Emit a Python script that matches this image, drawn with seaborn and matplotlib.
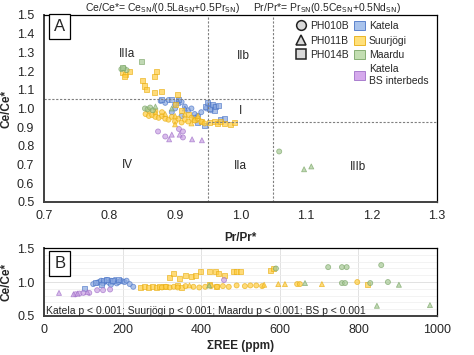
import numpy as np
import pandas as pd
import seaborn as sns
import matplotlib.pyplot as plt
from matplotlib.lines import Line2D
from matplotlib.patches import Patch

# ---- panel A: Pr/Pr* vs Ce/Ce* ----
katela_c_pr = [0.878, 0.885, 0.89, 0.90, 0.905, 0.91, 0.915, 0.92, 0.925, 0.93, 0.935, 0.94, 0.948, 0.952, 0.955, 0.96, 0.90, 0.895, 0.91, 0.93]
katela_c_ce = [1.04, 1.03, 1.045, 1.02, 1.04, 1.035, 1.01, 0.99, 1.00, 0.97, 0.96, 0.98, 1.00, 1.02, 0.99, 1.01, 1.00, 0.98, 0.96, 0.95]
katela_s_pr = [0.88, 0.895, 0.905, 0.947, 0.95, 0.953, 0.957, 0.96, 0.962, 0.966, 0.97, 0.975, 0.945, 0.935]
katela_s_ce = [1.05, 1.05, 1.05, 1.01, 1.03, 1.00, 1.02, 0.99, 1.01, 1.015, 0.94, 0.945, 0.91, 0.925]
katela_t_pr = [0.905, 0.915]
katela_t_ce = [1.03, 1.00]

suur_s_pr = [0.82, 0.825, 0.83, 0.823, 0.872, 0.869, 0.85, 0.854, 0.857, 0.869, 0.88, 0.903,
             0.953, 0.96, 0.965, 0.97, 0.975, 0.984, 0.99, 0.90, 0.91, 0.92, 0.93, 0.94]
suur_s_ce = [1.19, 1.18, 1.20, 1.17, 1.195, 1.17, 1.15, 1.12, 1.10, 1.087, 1.09, 1.077,
             0.925, 0.93, 0.92, 0.93, 0.92, 0.915, 0.925, 1.02, 0.99, 0.97, 0.94, 0.93]
suur_c_pr = [0.855, 0.86, 0.865, 0.87, 0.875, 0.88, 0.885, 0.89, 0.895, 0.90, 0.905, 0.91, 0.915,
             0.92, 0.925, 0.93, 0.935, 0.94, 0.945, 0.86, 0.87, 0.88]
suur_c_ce = [0.97, 0.96, 0.965, 0.955, 0.95, 0.96, 0.945, 0.94, 0.955, 0.93, 0.945, 0.925, 0.94,
             0.93, 0.95, 0.935, 0.945, 0.93, 0.92, 0.99, 0.985, 0.98]
suur_t_pr = [0.87, 0.885, 0.90, 0.915, 0.925, 0.90, 0.935]
suur_t_ce = [0.98, 0.97, 0.96, 0.97, 0.92, 0.915, 0.96]

maardu_c_pr = [0.818, 0.822, 0.826, 0.854, 0.858, 0.862, 0.866, 1.059]
maardu_c_ce = [1.21, 1.215, 1.205, 1.00, 0.995, 1.005, 0.99, 0.77]
maardu_s_pr = [0.848, 0.82]
maardu_s_ce = [1.25, 1.22]
maardu_t_pr = [0.87, 0.895, 1.097, 1.108]
maardu_t_ce = [1.01, 1.00, 0.675, 0.69]

bs_c_pr = [0.874, 0.885, 0.906, 0.912, 0.912]
bs_c_ce = [0.877, 0.85, 0.89, 0.877, 0.845]
bs_t_pr = [0.891, 0.895, 0.907, 0.926, 0.941]
bs_t_ce = [0.835, 0.86, 0.86, 0.835, 0.83]

# ---- panel B: sum REE vs Ce/Ce* ----
katela_c_ree = [125, 135, 140, 145, 150, 155, 160, 165, 170, 175, 180, 185, 190, 195, 200, 205, 210, 218, 227, 170]
katela_c_ceb = [0.97, 0.99, 1.00, 1.02, 0.98, 1.01, 1.03, 0.99, 1.02, 1.00, 1.03, 0.98, 1.00, 1.02, 1.01, 1.00, 1.02, 0.97, 0.93, 0.96]
katela_s_ree = [104, 130, 150, 160, 175, 190, 145]
katela_s_ceb = [0.91, 1.00, 1.03, 1.04, 1.02, 1.04, 0.96]

bs_c_ree = [80, 90, 100, 115, 135, 150, 168, 458]
bs_c_ceb = [0.82, 0.83, 0.84, 0.84, 0.88, 0.88, 0.89, 1.03]
bs_t_ree = [38, 75, 85, 110]
bs_t_ceb = [0.84, 0.82, 0.83, 0.85]

suur_s_ree = [245, 255, 265, 275, 285, 295, 320, 330, 345, 360, 375, 385, 397, 420, 435, 445, 460,
              481, 490, 499, 575, 583, 822, 310, 340, 350, 420, 440]
suur_s_ceb = [0.92, 0.93, 0.92, 0.93, 0.92, 0.93, 1.07, 1.12, 1.05, 1.09, 1.08, 1.10, 1.15, 1.16, 1.15, 1.12, 1.10,
              1.15, 1.15, 1.15, 1.17, 1.20, 0.96, 0.94, 0.95, 0.92, 0.96, 0.93]
suur_c_ree = [300, 310, 320, 330, 340, 360, 380, 395, 410, 425, 440, 455, 470, 490, 511, 525, 540, 555, 644, 651, 797]
suur_c_ceb = [0.92, 0.93, 0.92, 0.93, 0.92, 0.94, 0.93, 0.92, 0.93, 0.94, 0.93, 0.94, 0.93, 0.95, 0.94, 0.95, 0.95, 0.94, 0.97, 0.97, 1.00]
suur_t_ree = [370, 560, 596, 613, 707]
suur_t_ceb = [0.95, 0.96, 0.97, 0.97, 0.97]

maardu_c_ree = [590, 723, 758, 770, 858, 758, 766, 830, 875]
maardu_c_ceb = [1.20, 1.22, 1.22, 1.22, 1.25, 0.985, 0.985, 0.985, 1.00]
maardu_t_ree = [420, 664, 903, 847, 982]
maardu_t_ceb = [0.95, 0.985, 0.96, 0.65, 0.66]

formations = ["Katela", "Suurjögi", "Maardu", "Katela\nBS interbeds"]
samples = ["PH010B", "PH011B", "PH014B"]
fill_colors = {"Katela": "#8aa8e0", "Suurjögi": "#ffcc40", "Maardu": "#a6c894", "Katela\nBS interbeds": "#c9a2e3"}
edge_colors = {"Katela": "#4a74c6", "Suurjögi": "#e8ad10", "Maardu": "#7aa566", "Katela\nBS interbeds": "#a070c8"}
patch_colors = {"Katela": "#a9c3ec", "Suurjögi": "#ffe07a", "Maardu": "#c3deb2", "Katela\nBS interbeds": "#d5a9ec"}
marker_map = {"PH010B": "o", "PH011B": "^", "PH014B": "s"}


def make_df(groups):
    rows = []
    for form, samp, xs, ys in groups:
        for x, y in zip(xs, ys):
            rows.append({"formation": form, "sample": samp, "x": x, "y": y})
    return pd.DataFrame(rows)


df_a = make_df([
    ("Katela", "PH010B", katela_c_pr, katela_c_ce),
    ("Katela", "PH014B", katela_s_pr, katela_s_ce),
    ("Katela", "PH011B", katela_t_pr, katela_t_ce),
    ("Suurjögi", "PH014B", suur_s_pr, suur_s_ce),
    ("Suurjögi", "PH010B", suur_c_pr, suur_c_ce),
    ("Suurjögi", "PH011B", suur_t_pr, suur_t_ce),
    ("Maardu", "PH010B", maardu_c_pr, maardu_c_ce),
    ("Maardu", "PH014B", maardu_s_pr, maardu_s_ce),
    ("Maardu", "PH011B", maardu_t_pr, maardu_t_ce),
    ("Katela\nBS interbeds", "PH010B", bs_c_pr, bs_c_ce),
    ("Katela\nBS interbeds", "PH011B", bs_t_pr, bs_t_ce),
])
df_b = make_df([
    ("Katela", "PH010B", katela_c_ree, katela_c_ceb),
    ("Katela", "PH014B", katela_s_ree, katela_s_ceb),
    ("Suurjögi", "PH014B", suur_s_ree, suur_s_ceb),
    ("Suurjögi", "PH010B", suur_c_ree, suur_c_ceb),
    ("Suurjögi", "PH011B", suur_t_ree, suur_t_ceb),
    ("Maardu", "PH010B", maardu_c_ree, maardu_c_ceb),
    ("Maardu", "PH011B", maardu_t_ree, maardu_t_ceb),
    ("Katela\nBS interbeds", "PH010B", bs_c_ree, bs_c_ceb),
    ("Katela\nBS interbeds", "PH011B", bs_t_ree, bs_t_ceb),
])

sns.set_style("white")
plt.rcParams["font.family"] = ["Liberation Sans", "DejaVu Sans"]

fig = plt.figure(figsize=(4.74, 3.55), dpi=100)
ax_a = fig.add_axes([0.093, 0.431, 0.829, 0.527])
ax_b = fig.add_axes([0.093, 0.110, 0.829, 0.191])


def draw_points(ax, df):
    for form in formations:
        sub = df[df["formation"] == form]
        sns.scatterplot(data=sub, x="x", y="y", style="sample", markers=marker_map,
                        style_order=samples, color=fill_colors[form], edgecolor=edge_colors[form],
                        linewidth=0.6, alpha=0.7, s=13, ax=ax, legend=False)


# ---- panel A ----
draw_points(ax_a, df_a)
ax_a.set_xlim(0.7, 1.3)
ax_a.set_ylim(0.5, 1.5)
ax_a.set_xticks(np.arange(0.7, 1.31, 0.1))
ax_a.set_yticks(np.arange(0.5, 1.51, 0.1))
ax_a.set_xticklabels([f"{v:.1f}" for v in np.arange(0.7, 1.31, 0.1)])
ax_a.set_yticklabels([f"{v:.1f}" for v in np.arange(0.5, 1.51, 0.1)])
ax_a.set_xlabel("Pr/Pr*", fontsize=8.5, fontweight="bold", labelpad=7)
ax_a.set_ylabel("Ce/Ce*", fontsize=8.5, fontweight="bold", labelpad=3)

dash = dict(color="#7f7f7f", lw=0.8, ls=(0, (2, 1.5)))
ax_a.axvline(0.95, **dash)
ax_a.axvline(1.05, **dash)
ax_a.plot([0.7, 1.05], [1.05, 1.05], **dash)
ax_a.plot([0.95, 1.3], [0.925, 0.925], **dash)

for txt, x, y in [("IIIa", 0.827, 1.29), ("IIb", 1.005, 1.28), ("I", 1.0, 0.985),
                  ("IV", 0.827, 0.70), ("IIa", 1.0, 0.69), ("IIIb", 1.18, 0.685)]:
    ax_a.text(x, y, txt, fontsize=8.5, ha="center", va="center")

ax_a.text(0.04, 0.94, "A", transform=ax_a.transAxes, fontsize=12, ha="center", va="center",
          bbox=dict(boxstyle="square,pad=0.3", fc="white", ec="black", lw=0.9))

fig.text(0.343, 0.977, r"Ce/Ce*= Ce$_{\mathrm{SN}}$/(0.5La$_{\mathrm{SN}}$+0.5Pr$_{\mathrm{SN}}$)",
         fontsize=7.5, ha="center", va="center")
fig.text(0.69, 0.977, r"Pr/Pr*= Pr$_{\mathrm{SN}}$(0.5Ce$_{\mathrm{SN}}$+0.5Nd$_{\mathrm{SN}}$)",
         fontsize=7.5, ha="center", va="center")

handles = [Line2D([], [], marker=marker_map[s], ls="none", mfc="#d9d9d9", mec="#222222",
                  mew=1.1, ms=7) for s in samples]
labels = list(samples)
handles.append(Patch(fc="none", ec="none"))
labels.append("")
for form in formations:
    handles.append(Patch(fc=patch_colors[form], ec=edge_colors[form], lw=0.6))
    labels.append(form)
ax_a.legend(handles, labels, ncol=2, loc="upper left", bbox_to_anchor=(0.625, 1.0),
            frameon=False, fontsize=7.5, handlelength=1.0, handleheight=1.0, handletextpad=0.4,
            columnspacing=0.5, labelspacing=0.4, borderaxespad=0.2)

# ---- panel B ----
ax_b.set_xlim(0, 1000)
ax_b.set_ylim(0.5, 1.5)
ax_b.set_xticks([0, 200, 400, 600, 800, 1000])
ax_b.set_yticks([0.5, 1.0, 1.5])
ax_b.set_yticklabels(["0.5", "1.0", "1.5"])
ax_b.set_yticks(np.arange(0.5, 1.51, 0.1), minor=True)
ax_b.grid(True, which="major", color="#dddddd", lw=0.6)
ax_b.grid(True, which="minor", axis="y", color="#eeeeee", lw=0.5)
ax_b.set_axisbelow(True)
draw_points(ax_b, df_b)
ax_b.set_xlabel("ΣREE (ppm)", fontsize=8.5, fontweight="bold", labelpad=3)
ax_b.set_ylabel("Ce/Ce*", fontsize=8.5, fontweight="bold", labelpad=3)
ax_b.text(0.006, 0.08, "Katela p < 0.001; Suurjögi p < 0.001; Maardu p < 0.001; BS p < 0.001",
          transform=ax_b.transAxes, fontsize=7.5, ha="left", va="center")
ax_b.text(0.04, 0.78, "B", transform=ax_b.transAxes, fontsize=12, ha="center", va="center",
          bbox=dict(boxstyle="square,pad=0.3", fc="white", ec="black", lw=0.9))

for ax in (ax_a, ax_b):
    ax.tick_params(labelsize=9, length=0)
    ax.tick_params(axis="x", pad=6)
    ax.tick_params(axis="y", pad=7)
    for sp in ax.spines.values():
        sp.set_color("black")
        sp.set_linewidth(0.9)
    ax.spines["left"].set_color("#404040")
    ax.spines["bottom"].set_color("#404040")
    ax.spines["left"].set_linewidth(1.4)
    ax.spines["bottom"].set_linewidth(1.4)

fig.savefig("out.png", dpi=100)
